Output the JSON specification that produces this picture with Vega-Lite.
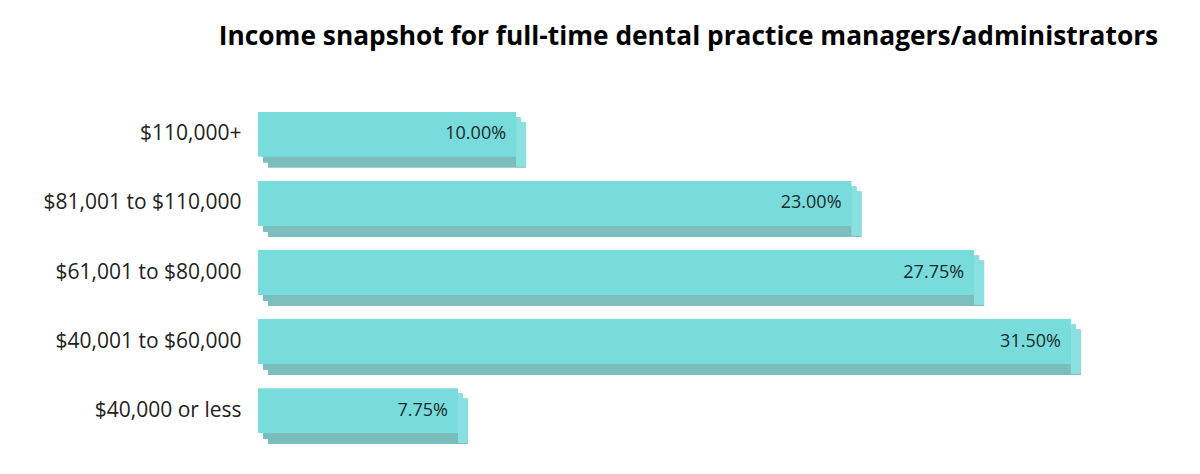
{
  "$schema": "https://vega.github.io/schema/vega-lite/v6.json",
  "autosize": "none",
  "width": 929,
  "height": 321,
  "padding": {"left": 258, "top": 112, "right": 13, "bottom": 41},
  "background": "white",
  "title": {
    "text": "Income snapshot for full-time dental practice managers/administrators",
    "font": "Open Sans",
    "fontSize": 26.3,
    "fontWeight": "bold",
    "color": "#000000",
    "anchor": "middle",
    "frame": "group",
    "dx": -34,
    "offset": 62
  },
  "data": {
    "values": [
      {"range": "$110,000+", "share": 0.10},
      {"range": "$81,001 to $110,000", "share": 0.23},
      {"range": "$61,001 to $80,000", "share": 0.2775},
      {"range": "$40,001 to $60,000", "share": 0.315},
      {"range": "$40,000 or less", "share": 0.0775}
    ]
  },
  "encoding": {
    "y": {
      "field": "range",
      "type": "nominal",
      "sort": null,
      "title": null,
      "scale": {"paddingInner": 0.35, "paddingOuter": 0},
      "axis": {
        "domain": false,
        "ticks": false,
        "labelFont": "Open Sans",
        "labelFontSize": 21,
        "labelColor": "#222222",
        "labelPadding": 17,
        "labelLimit": 400
      }
    },
    "x": {
      "field": "share",
      "type": "quantitative",
      "scale": {"domain": [0, 0.36], "nice": false},
      "axis": null
    }
  },
  "layer": [
    {
      "mark": {"type": "bar", "color": "#7cbebe", "xOffset": 5, "yOffset": 6}
    },
    {
      "mark": {"type": "bar", "color": "#7cbebe", "xOffset": 10, "yOffset": 11}
    },
    {
      "mark": {"type": "bar", "color": "#8ae0e0", "x2Offset": 5, "yOffset": 5},
      "encoding": {"x2": {"field": "share"}}
    },
    {
      "mark": {"type": "bar", "color": "#8ae0e0", "x2Offset": 10, "yOffset": 10},
      "encoding": {"x2": {"field": "share"}}
    },
    {
      "mark": {"type": "bar", "color": "#79dcdc"}
    },
    {
      "mark": {"type": "text", "align": "right", "baseline": "middle", "dx": -10, "font": "Open Sans", "fontSize": 18, "color": "#1c2a2a"},
      "encoding": {"text": {"field": "share", "type": "quantitative", "format": ".2%"}}
    }
  ],
  "config": {"view": {"stroke": null}}
}
